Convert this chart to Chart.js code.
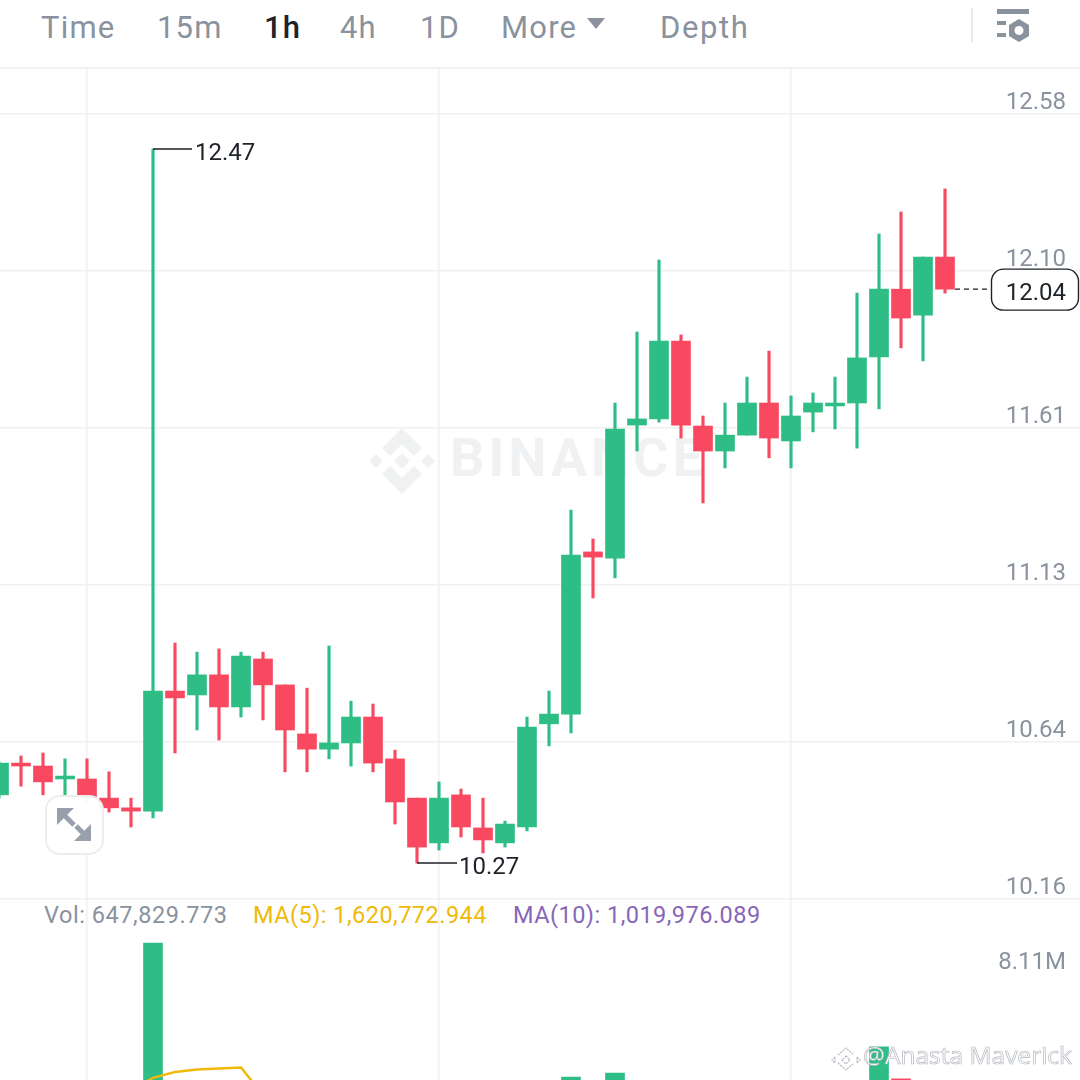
<!DOCTYPE html>
<html>
<head>
<meta charset="utf-8">
<title>1h chart</title>
<script src="https://cdn.jsdelivr.net/npm/chart.js@4"></script>
<style>
html, body { margin: 0; padding: 0; background: #fff; }
body { width: 1080px; height: 1080px; position: relative; overflow: hidden; font-family: Roboto, sans-serif; }
canvas { position: absolute; left: 0; z-index: 2; }
#priceChart { top: 68px; }
#volumeChart { top: 899px; }
.txt { position: absolute; white-space: nowrap; line-height: 1; }
.tab { top: 12px; font-size: 31px; color: #8a929e; letter-spacing: 1.2px; }
.legend { top: 904px; font-size: 23.5px; letter-spacing: 0.47px; }
#brand { left: 450px; top: 431px; font-size: 54px; font-weight: 700; color: #f0f1f2; letter-spacing: 4px; z-index: 1; }
#credit { left: 863px; top: 1043px; font-size: 24.5px; color: #fff; -webkit-text-stroke: 0.7px #b4b8bf; z-index: 5; font-family: "Open Sans", sans-serif; }
#headerLine { position: absolute; left: 0; top: 67px; width: 1080px; height: 2px; background: #f1f2f4; }
#shapes { position: absolute; left: 0; top: 0; z-index: 4; }
#logo { position: absolute; left: 0; top: 0; z-index: 1; }
</style>
</head>
<body>
<div class="txt tab" style="left:41px">Time</div>
<div class="txt tab" style="left:157px">15m</div>
<div class="txt tab" style="left:264px;color:#1e2329;font-weight:500">1h</div>
<div class="txt tab" style="left:340px">4h</div>
<div class="txt tab" style="left:420px">1D</div>
<div class="txt tab" style="left:501px">More</div>
<div class="txt tab" style="left:660px;letter-spacing:1.6px">Depth</div>
<div id="headerLine"></div>

<svg id="logo" width="1080" height="1080">
  <g transform="translate(402 461)" fill="#f0f1f2">
    <polygon points="0,-33 20,-13 12,-5 0,-17 -12,-5 -20,-13"/>
    <polygon points="0,33 20,13 12,5 0,17 -12,5 -20,13"/>
    <polygon points="0,-8 8,0 0,8 -8,0"/>
    <polygon points="-26,-7 -19,0 -26,7 -33,0"/>
    <polygon points="26,-7 33,0 26,7 19,0"/>
  </g>
</svg>
<div class="txt" id="brand">BINANCE</div>

<canvas id="priceChart" width="1080" height="833"></canvas>
<canvas id="volumeChart" width="1080" height="181"></canvas>

<div class="txt legend" style="left:44px;color:#8a929e;letter-spacing:0.55px">Vol: 647,829.773</div>
<div class="txt legend" style="left:253px;color:#f0b90b">MA(5): 1,620,772.944</div>
<div class="txt legend" style="left:513px;color:#8766b8">MA(10): 1,019,976.089</div>
<div class="txt" id="credit">@Anasta Maverick</div>

<svg id="shapes" width="1080" height="1080">
  <!-- dropdown arrow and divider -->
  <polygon points="587,18 605,18 596,29" fill="#8a929e"/>
  <rect x="971" y="8" width="2" height="34" fill="#e9eaec"/>
  <!-- settings icon -->
  <rect x="997" y="9" width="32" height="5" fill="#8a929e"/>
  <rect x="997" y="21" width="9" height="4" fill="#8a929e"/>
  <rect x="997" y="33" width="9" height="4" fill="#8a929e"/>
  <polygon points="1019,19 1029,25 1029,36 1019,42 1009,36 1009,25" fill="#8a929e"/>
  <circle cx="1019" cy="30.5" r="4.5" fill="#fff"/>
  <!-- expand button -->
  <rect x="46" y="796" width="57" height="58" rx="14" fill="#fff" fill-opacity="0.95" stroke="#eceded" stroke-width="2"/>
  <polygon points="57,808 74,808 57,825" fill="#9aa0ab"/>
  <line x1="62" y1="813" x2="74" y2="825" stroke="#9aa0ab" stroke-width="5"/>
  <polygon points="91,841 74,841 91,824" fill="#9aa0ab"/>
  <line x1="86" y1="836" x2="76" y2="826" stroke="#9aa0ab" stroke-width="5"/>
  <!-- small logo of the credit -->
  <g transform="translate(846 1060)" fill="none" stroke="#b4b8bf" stroke-width="1.2" stroke-dasharray="2 1">
    <polyline points="-8,-5 0,-12 8,-5"/>
    <polyline points="-8,3 0,10 8,3"/>
    <polygon points="0,-4 4,0 0,4 -4,0"/>
    <polygon points="-11,-3 -14,0 -11,3"/>
    <polygon points="11,-3 14,0 11,3"/>
  </g>
</svg>

<script>
const candleIndex = [0,1,2,3,4,5,6,7,8,9,10,11,12,13,14,15,16,17,18,19,20,21,22,23,24,25,26,27,28,29,30,31,32,33,34,35,36,37,38,39,40,41,42,43];
const opens = [10.481,10.579,10.570,10.530,10.530,10.471,10.441,10.431,10.801,10.789,10.851,10.752,10.900,10.820,10.669,10.622,10.641,10.721,10.592,10.471,10.333,10.481,10.379,10.333,10.382,10.700,10.730,11.230,11.211,11.621,11.640,11.880,11.618,11.541,11.590,11.689,11.572,11.661,11.680,11.689,11.831,12.040,11.960,12.139];
const closes = [10.579,10.570,10.521,10.539,10.474,10.441,10.431,10.801,10.780,10.851,10.752,10.909,10.820,10.681,10.622,10.641,10.721,10.579,10.459,10.320,10.471,10.382,10.342,10.391,10.690,10.730,11.220,11.214,11.609,11.640,11.880,11.621,11.541,11.590,11.689,11.581,11.649,11.689,11.689,11.828,12.040,11.951,12.139,12.040];
const highs = [10.582,10.601,10.610,10.592,10.592,10.552,10.471,12.472,10.949,10.921,10.931,10.921,10.921,10.820,10.810,10.940,10.770,10.761,10.619,10.471,10.521,10.499,10.471,10.400,10.721,10.801,11.359,11.270,11.689,11.908,12.130,11.899,11.649,11.689,11.769,11.849,11.711,11.720,11.769,12.028,12.210,12.278,12.139,12.349];
const lows = [10.471,10.508,10.481,10.481,10.459,10.428,10.382,10.410,10.610,10.681,10.650,10.721,10.712,10.552,10.552,10.592,10.570,10.552,10.391,10.271,10.311,10.351,10.302,10.320,10.370,10.632,10.672,11.088,11.150,11.541,11.630,11.581,11.381,11.489,11.590,11.520,11.489,11.600,11.609,11.550,11.671,11.859,11.819,12.028];
// only the volumes that reach into the picture, the rest is cut off at the bottom
const volumes = [null,null,null,null,null,null,null,9.33,null,null,null,null,null,null,null,null,null,null,null,null,null,null,null,null,null,null,4.05,null,4.21,null,null,null,null,null,null,null,null,null,null,null,5.24,3.98,null,null];
const ma5 = [null,null,null,null,null,null,3.54,4.02,4.25,4.35,4.39,4.43,3.35,null,null,null,null,null,null,null,null,null,null,null,null,null,null,null,null,null,null,null,null,null,null,null,null,null,null,null,null,null,null,null];
const priceTicks = [12.58,12.096,11.612,11.128,10.644,10.16];
const volumeTicks = [8.11];
const timeTicks = [4,20,36];

const green = "#2ebd85";
const red = "#f84960";
const gridColor = "#eff0f2";
const labelColor = "#8a929e";
const darkColor = "#1e2329";
const xMin = 1 / 22;
const xMax = 1081 / 22;

Chart.defaults.font.family = "Roboto";
Chart.defaults.animation = false;

const candleColors = candleIndex.map((i) => (closes[i] >= opens[i] ? green : red));

function xAxis() {
  return {
    type: "linear",
    offset: false,
    min: xMin,
    max: xMax,
    border: { display: false },
    ticks: { display: false },
    grid: { color: gridColor, lineWidth: 1.5, drawTicks: false, offset: false },
    afterBuildTicks: (scale) => {
      scale.ticks = timeTicks.map((value) => ({ value }));
    },
  };
}

function yAxis(min, max, tickValues, labelOf, showGrid) {
  return {
    position: "right",
    min,
    max,
    border: { display: false },
    grid: { display: showGrid, color: gridColor, lineWidth: 1.5, drawTicks: false },
    afterFit: (scale) => {
      scale.width = 0;
      scale.paddingTop = 0;
      scale.paddingBottom = 0;
    },
    afterBuildTicks: (scale) => {
      scale.ticks = tickValues.map((value) => ({ value }));
    },
    ticks: {
      mirror: true,
      padding: -14,
      autoSkip: false,
      color: labelColor,
      font: { size: 24, lineHeight: "22px" },
      // second empty line lifts the label above its grid line
      callback: (value) => [labelOf(value), " "],
    },
  };
}

const priceMarks = {
  id: "priceMarks",
  afterDatasetsDraw(chart) {
    const { ctx, scales } = chart;
    const highest = Math.max(...highs);
    const lowest = Math.min(...lows);
    const last = closes[closes.length - 1];
    const highX = scales.x.getPixelForValue(highs.indexOf(highest));
    const highY = scales.y.getPixelForValue(highest);
    const lowX = scales.x.getPixelForValue(lows.indexOf(lowest));
    const lowY = scales.y.getPixelForValue(lowest);
    const lastX = scales.x.getPixelForValue(candleIndex[candleIndex.length - 1]);
    const lastY = scales.y.getPixelForValue(last);
    ctx.save();
    ctx.strokeStyle = darkColor;
    ctx.fillStyle = darkColor;
    ctx.lineWidth = 1.4;
    ctx.font = "24px Roboto";
    ctx.textBaseline = "middle";

    ctx.beginPath();
    ctx.moveTo(highX, highY);
    ctx.lineTo(highX + 39, highY);
    ctx.moveTo(lowX, lowY);
    ctx.lineTo(lowX + 40, lowY);
    ctx.stroke();
    ctx.fillText(highest.toFixed(2), highX + 42, highY + 5);
    ctx.fillText(lowest.toFixed(2), lowX + 42, lowY + 5);

    ctx.setLineDash([5, 4]);
    ctx.beginPath();
    ctx.moveTo(lastX + 10, lastY);
    ctx.lineTo(992, lastY);
    ctx.stroke();
    ctx.setLineDash([]);

    ctx.beginPath();
    ctx.roundRect(991.5, lastY - 20, 87, 41, 12);
    ctx.fillStyle = "#fff";
    ctx.fill();
    ctx.stroke();
    ctx.fillStyle = darkColor;
    ctx.textAlign = "right";
    ctx.fillText(last.toFixed(2), 1066, lastY + 5);
    ctx.restore();
  },
};

new Chart(document.getElementById("priceChart"), {
  type: "bar",
  data: {
    datasets: [
      {
        label: "Wick",
        data: candleIndex.map((i) => ({ x: i, y: [lows[i], highs[i]] })),
        backgroundColor: candleColors,
        barThickness: 2.5,
        grouped: false,
        order: 2,
      },
      {
        label: "Body",
        data: candleIndex.map((i) => ({ x: i, y: [opens[i], closes[i]] })),
        backgroundColor: candleColors,
        barThickness: 19,
        grouped: false,
        order: 1,
      },
    ],
  },
  options: {
    responsive: false,
    maintainAspectRatio: false,
    layout: { padding: { left: 0, right: 0, top: 0, bottom: 2 } },
    plugins: { legend: { display: false }, tooltip: { enabled: false } },
    scales: {
      x: xAxis(),
      y: yAxis(10.16, 12.7218, priceTicks, (value) => value.toFixed(2), true),
    },
  },
  plugins: [priceMarks],
});

new Chart(document.getElementById("volumeChart"), {
  type: "bar",
  data: {
    datasets: [
      {
        label: "MA(5)",
        type: "line",
        data: candleIndex.map((i) => ({ x: i, y: ma5[i] })),
        borderColor: "#f0b90b",
        borderWidth: 2.5,
        pointRadius: 0,
        tension: 0,
        order: 1,
      },
      {
        label: "Vol",
        data: candleIndex.map((i) => ({ x: i, y: volumes[i] })),
        backgroundColor: candleColors,
        barThickness: 19,
        grouped: false,
        order: 2,
      },
    ],
  },
  options: {
    responsive: false,
    maintainAspectRatio: false,
    layout: { padding: 0 },
    plugins: { legend: { display: false }, tooltip: { enabled: false } },
    scales: {
      x: xAxis(),
      y: yAxis(3.937, 11.063, volumeTicks, (value) => value.toFixed(2) + "M", false),
    },
  },
});
</script>
</body>
</html>
